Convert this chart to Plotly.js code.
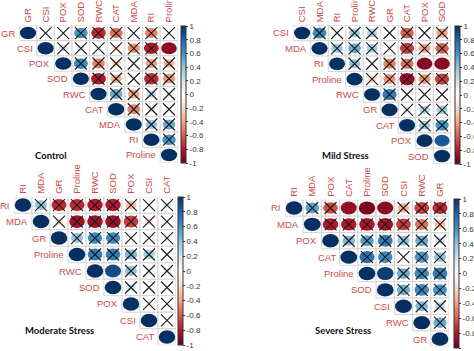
<!DOCTYPE html>
<html>
<head>
<meta charset="utf-8">
<script src="https://cdn.plot.ly/plotly-3.0.1.min.js"></script>
<style>html,body{margin:0;padding:0;background:#fff}#chart{width:474px;height:351px}</style>
</head>
<body>
<div id="chart"></div>
<script>
// ---------- DATA ----------
const controlLabels = ['GR','CSI','POX','SOD','RWC','CAT','MDA','RI','Proline'];
const controlCorr = [
  [1, 0.05, 0.05, 0.6, -0.75, -0.55, 0.02, -0.5, 0.02],
  [1, 0.2, 0.15, -0.05, -0.15, -0.45, -0.8, -0.9],
  [1, 0.65, -0.5, -0.2, 0.02, -0.4, -0.35],
  [1, -0.8, -0.35, 0.02, -0.75, -0.45],
  [1, 0.5, -0.4, 0.25, 0.05],
  [1, -0.5, 0.15, 0.05],
  [1, 0.4, 0.5],
  [1, 0.6],
  [1]
];
const controlCross = [
  [0,1,1,1,1,1,1,1,1],
  [0,1,1,1,1,1,1,0],
  [0,1,1,1,1,1,1],
  [0,1,1,1,1,1],
  [0,1,1,1,1],
  [0,1,1,1],
  [0,1,1],
  [0,1],
  [0]
];

const mildLabels = ['CSI','MDA','RI','Proline','RWC','GR','CAT','POX','SOD'];
const mildCorr = [
  [1, 0.65, 0.02, 0.35, 0.3, 0.02, -0.6, 0.02, -0.4],
  [1, 0.4, 0.5, 0.35, 0.02, -0.7, -0.4, -0.6],
  [1, 0.4, 0.02, -0.5, -0.55, -0.92, -0.92],
  [1, -0.2, -0.45, -0.88, -0.45, -0.7],
  [1, 0.7, 0.02, 0.02, 0.02],
  [1, 0.15, 0.3, 0.35],
  [1, 0.35, 0.6],
  [1, 0.85],
  [1]
];
const mildCross = [
  [0,1,1,1,1,1,1,1,1],
  [0,1,1,1,1,1,1,1],
  [0,1,1,1,1,0,0],
  [0,1,1,1,1,1],
  [0,1,1,1,1],
  [0,1,1,1],
  [0,1,1],
  [0,0],
  [0]
];

const moderateLabels = ['RI','MDA','GR','Proline','RWC','SOD','POX','CSI','CAT'];
const moderateCorr = [
  [1, 0.4, -0.75, -0.75, -0.8, -0.8, -0.3, 0.02, 0.12],
  [1, -0.15, -0.85, -0.85, -0.85, -0.7, -0.15, 0.02],
  [1, 0.4, 0.65, 0.65, 0.02, 0.02, 0.02],
  [1, 0.7, 0.7, 0.45, 0.35, 0.02],
  [1, 0.9, 0.4, 0.02, -0.1],
  [1, 0.2, 0.02, 0.02],
  [1, 0.02, 0.02],
  [1, 0.02],
  [1]
];
const moderateCross = [
  [0,1,1,1,1,1,1,1,1],
  [0,1,1,1,1,1,1,1],
  [0,1,1,1,1,1,1],
  [0,1,1,1,1,1],
  [0,0,1,1,1],
  [0,1,1,1],
  [0,1,1],
  [0,1],
  [0]
];

const severeLabels = ['RI','MDA','POX','CAT','Proline','SOD','CSI','RWC','GR'];
const severeCorr = [
  [1, 0.55, -0.65, -0.88, -0.95, -0.9, -0.35, -0.7, -0.75],
  [1, -0.8, -0.8, -0.82, -0.85, -0.7, -0.55, -0.3],
  [1, 0.45, 0.55, 0.7, 0.4, 0.5, 0.2],
  [1, 0.75, 0.65, 0.02, 0.6, 0.4],
  [1, 0.95, 0.5, 0.65, 0.7],
  [1, 0.5, 0.65, 0.6],
  [1, 0.45, 0.25],
  [1, 0.5],
  [1]
];
const severeCross = [
  [0,1,1,0,0,0,1,1,1],
  [0,1,1,1,1,1,1,1],
  [0,1,1,1,1,1,1],
  [0,1,1,1,1,1],
  [0,0,1,1,1],
  [0,1,1,1],
  [0,1,1],
  [0,1],
  [0]
];

const panelTitles = ['Control','Mild Stress','Moderate Stress','Severe Stress'];
const colorbarTicks = [1,0.8,0.6,0.4,0.2,0,-0.2,-0.4,-0.6,-0.8,-1];

// ---------- STYLE ----------
const W = 474, H = 351;
const palette = ['#67001F','#B2182B','#D6604D','#F4A582','#FDDBC7','#FFFFFF','#D1E5F0','#92C5DE','#4393C3','#2166AC','#053061'];
const colorscale = palette.map((c,i)=>[i/10, c]);
function hex2rgb(h){return [1,3,5].map(k=>parseInt(h.substr(k,2),16));}
function colorFor(v){
  let t = (v+1)/2*10; if(t<0)t=0; if(t>10)t=10;
  let i = Math.min(9, Math.floor(t)); let f = t-i;
  const a=hex2rgb(palette[i]), b=hex2rgb(palette[i+1]);
  const c=a.map((x,k)=>Math.round(x+(b[k]-x)*f));
  return 'rgb('+c.join(',')+')';
}
const geom = [
  {l:19.2, r:177.8, t:25.4, b:162.6, cbx:181, cbt:26, cbb:163, tx:51, ty:155.5},
  {l:293.3, r:450.8, t:25.3, b:163.7, cbx:455, cbt:26, cbb:164, tx:345, ty:155.5},
  {l:14, r:176, t:196.8, b:345.2, cbx:178, cbt:197, cbb:345, tx:59.5, ty:330},
  {l:284.9, r:449.1, t:199.8, b:347.2, cbx:454, cbt:199, cbb:348, tx:343, ty:330}
];
const panels = [
  {labels:controlLabels, corr:controlCorr, cross:controlCross},
  {labels:mildLabels, corr:mildCorr, cross:mildCross},
  {labels:moderateLabels, corr:moderateCorr, cross:moderateCross},
  {labels:severeLabels, corr:severeCorr, cross:severeCross}
];
const labelColor = '#cc4b4b';
const labelFont = {family:'Liberation Sans, Arial, sans-serif', size:9.5, color:labelColor};

const traces = [], shapes = [], annotations = [];
const layout = {
  width: W, height: H,
  margin:{l:0,r:0,t:0,b:0,autoexpand:false},
  paper_bgcolor:'#fff', plot_bgcolor:'rgba(0,0,0,0)',
  showlegend:false
};

panels.forEach((p,k)=>{
  const g = geom[k];
  const n = p.labels.length;
  const sfx = k===0 ? '' : String(k+1);
  const xa = 'x'+sfx, ya = 'y'+sfx;
  layout['xaxis'+sfx] = {
    domain:[g.l/W, g.r/W], range:[-0.5, n-0.5], side:'top', anchor:ya,
    tickvals:p.labels.map((_,i)=>i), ticktext:p.labels, tickangle:-90,
    tickfont:labelFont, ticks:'', ticklabelstandoff:2, showgrid:false, zeroline:false, showline:false, fixedrange:true
  };
  layout['yaxis'+sfx] = {
    domain:[1-g.b/H, 1-g.t/H], range:[n-0.5, -0.5], anchor:xa,
    showticklabels:false, ticks:'', showgrid:false, zeroline:false, showline:false, fixedrange:true
  };
  const cx=[], cy=[];
  p.corr.forEach((row,i)=>{
    row.forEach((v,jj)=>{
      const j = i+jj;
      shapes.push({type:'rect', xref:xa, yref:ya, x0:j-0.5, x1:j+0.5, y0:i-0.5, y1:i+0.5,
        line:{color:'#d4d4d4', width:1}, fillcolor:'#ffffff', layer:'below'});
    });
  });
  p.corr.forEach((row,i)=>{
    row.forEach((v,jj)=>{
      const j = i+jj;
      const s = Math.pow(Math.abs(v), 0.35);
      const rx = 0.46*s, ry = 0.41*s;
      shapes.push({type:'circle', xref:xa, yref:ya, x0:j-rx, x1:j+rx, y0:i-ry, y1:i+ry,
        line:{width:0}, fillcolor:colorFor(v), layer:'below'});
      if (p.cross[i][jj]) { cx.push(j); cy.push(i); }
    });
    annotations.push({xref:xa, yref:ya, x:i-0.5, y:i, xanchor:'right', yanchor:'middle',
      xshift:-2, text:p.labels[i], showarrow:false, font:labelFont});
  });
  traces.push({type:'scatter', mode:'markers', x:cx, y:cy, xaxis:xa, yaxis:ya, hoverinfo:'skip',
    marker:{symbol:'x-thin', size:12, line:{color:'#1a1a1a', width:1.1}}});
  traces.push({type:'scatter', mode:'markers', x:[0,0], y:[0,0], xaxis:xa, yaxis:ya, hoverinfo:'skip',
    marker:{color:[-1,1], cmin:-1, cmax:1, colorscale:colorscale, opacity:0, size:1, showscale:true,
      colorbar:{x:g.cbx/W, xanchor:'left', xpad:0, y:1-(g.cbt+g.cbb)/2/H, yanchor:'middle', ypad:0,
        len:(g.cbb-g.cbt)/H, lenmode:'fraction', thickness:5, outlinewidth:1, outlinecolor:'#333',
        tickvals:colorbarTicks, ticktext:colorbarTicks.map(String), ticks:'outside', ticklen:2,
        tickcolor:'#333', tickfont:{family:'Liberation Sans, Arial, sans-serif', size:8, color:'#333'}}}});
  annotations.push({xref:'paper', yref:'paper', x:g.tx/W, y:1-g.ty/H, xanchor:'center', yanchor:'middle',
    text:'<b>'+panelTitles[k]+'</b>', showarrow:false, font:{family:'Lato, sans-serif', size:9.5, color:'#111'}});
});
layout.shapes = shapes;
layout.annotations = annotations;
Plotly.newPlot('chart', traces, layout, {displayModeBar:false, staticPlot:true});
</script>
</body>
</html>
